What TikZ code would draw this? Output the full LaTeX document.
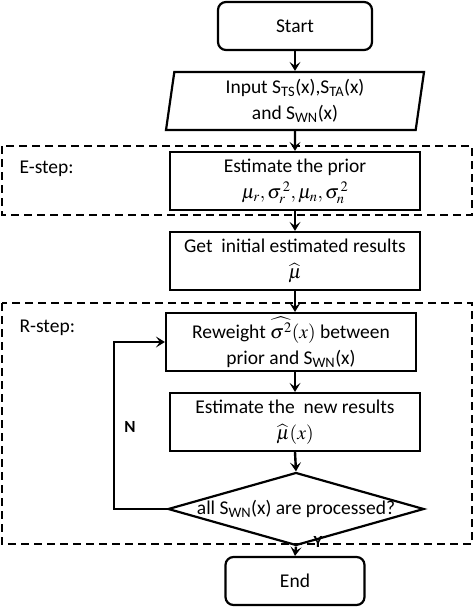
\documentclass[tikz,border=0pt]{standalone}
\usepackage{mathptmx}
\usepackage{fontspec}
\setmainfont{Carlito}
\usetikzlibrary{shapes.geometric,arrows.meta}

\tikzset{
  box/.style={draw, line width=2.2pt, minimum width=250pt, minimum height=58pt,
    align=center, inner sep=2pt, font=\fontsize{19.5}{26}\selectfont},
  term/.style={box, rounded corners=8pt, minimum height=48pt},
  io/.style={box, trapezium, trapezium left angle=80, trapezium right angle=100,
    trapezium stretches body, minimum width=258pt},
  decision/.style={draw, line width=2.2pt, diamond, minimum width=256pt,
    minimum height=73pt, inner sep=0pt},
  arr/.style={line width=2.4pt, -{Stealth[length=9pt,width=11pt,inset=4pt]}},
  stage/.style={draw, line width=2.2pt, dash pattern=on 8pt off 5pt},
  steplabel/.style={anchor=west, font=\fontsize{19.5}{26}\selectfont},
}

\begin{document}
\begin{tikzpicture}[x=1pt,y=-1pt]
    \useasboundingbox (0,0) rectangle (474,607);

    % stages
    \draw[stage] (2,146) rectangle (472,215);
    \draw[stage] (2,303) rectangle (472,544);
    \node[steplabel] (elabel) at (16,169) {E-step:};
    \node[steplabel] (rlabel) at (16,328) {R-step:};

    % main flow
    \node[term, minimum width=154pt] (start) at (295,26) {Start};
    \node[io] (input) at (295,101)
        {Input S\textsubscript{TS}(x),S\textsubscript{TA}(x)\\ and S\textsubscript{WN}(x)};
    \node[box] (prior) at (295,181)
        {Estimate the prior\\ $\mu_r,\sigma_r^{\,2},\mu_n,\sigma_n^{\,2}$};
    \node[box] (initial) at (295,261)
        {Get\ \ initial estimated results\\ $\widehat{\mu}$};
    \node[box] (reweight) at (291,342)
        {Reweight $\widehat{\sigma^2}(x)$ between\\ prior and S\textsubscript{WN}(x)};
    \node[box] (newres) at (295,422)
        {Estimate the\ \ new results\\ $\widehat{\mu}(x)$};
    \node[decision, label={[font=\fontsize{19.5}{26}\selectfont]center:all S\textsubscript{WN}(x) are processed?}]
        (check) at (296,509) {};
    \node[term, minimum width=139pt] (end) at (295,581) {End};

    \draw[arr] (start) -- (input);
    \draw[arr] (input) -- (prior);
    \draw[arr] (prior) -- (initial);
    \draw[arr] (initial.south) -- (initial.south |- reweight.north);
    \draw[arr] (newres.north |- reweight.south) -- (newres.north);
    \draw[arr] (newres.south) -- (check.north);
    \draw[arr] (check.south) -- (end.north);

    % loop back
    \coordinate (back) at (114,509);
    \draw[arr] (check.west) -- (back) |- (reweight.west);
    \node[font=\fontsize{17}{20}\selectfont\bfseries] (no) at (130,427) {N};
    \node[font=\fontsize{17}{20}\selectfont\bfseries] (yes) at (318,542) {Y};
\end{tikzpicture}
\end{document}
